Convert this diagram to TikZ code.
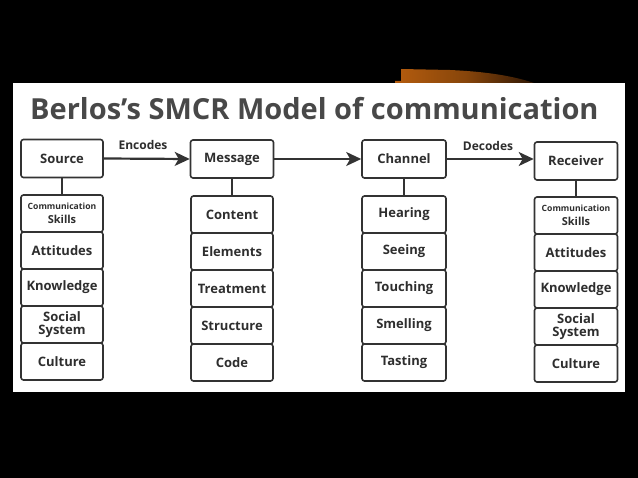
\documentclass[tikz,border=0pt]{standalone}
\usepackage{fontspec}
\setmainfont{Open Sans}
\usetikzlibrary{arrows.meta}
\definecolor{lineC}{HTML}{333333}
\definecolor{txtC}{HTML}{2E2E2E}
\definecolor{titleC}{HTML}{484848}
\definecolor{blobA}{HTML}{B45C0E}
\definecolor{blobB}{HTML}{2A1404}
\tikzset{
  box/.style={draw=lineC, line width=1.6pt, rounded corners=2.5pt, text=txtC,
    font=\bfseries\fontsize{13}{14}\selectfont, align=center, inner sep=0pt},
  headbox/.style={box, minimum height=38pt},
  cellbox/.style={box, minimum height=37pt},
  link/.style={draw=lineC, line width=1.6pt},
  flow/.style={draw=lineC, line width=2.2pt, -{Stealth[length=15pt,width=14pt,inset=4pt]}},
  lab/.style={text=txtC, font=\bfseries\fontsize{12}{13}\selectfont, inner sep=0pt}
}
\newcommand{\commskills}{\fontsize{8.6}{9}\selectfont Communication\\[0pt]\fontsize{11}{11}\selectfont Skills}
\newcommand{\socsys}{Social\\[-1pt]System}
\begin{document}
\begin{tikzpicture}[x=1pt,y=-1pt]
\useasboundingbox (0,0) rectangle (638,478);
\fill[black] (0,0) rectangle (638,478);
% orange blob
\shade[left color=blobA, right color=blobB, middle color=blobA!75!black]
  (395,84) -- (395,81) -- (401,81) -- (401,69) -- (450,70)
  .. controls (495,72) and (520,78) .. (537,84) -- cycle;
\fill[white] (13,83) rectangle (625,392);
\node[anchor=base west, text=titleC, font=\bfseries\fontsize{29}{32}\selectfont, inner sep=0pt] (title) at (30,120) {Berlos’s SMCR Model of communication};

% top boxes
\node[headbox, minimum width=82pt] (src) at (62,158.5) {Source};
\node[headbox, minimum width=83pt] (msg) at (232,159) {Message};
\node[headbox, minimum width=84pt] (chn) at (404,159) {Channel};
\node[headbox, minimum width=83pt] (rcv) at (576,161) {Receiver};

% stacks
\node[cellbox, minimum width=82pt] (s1) at (62,213.5) {\commskills};
\node[cellbox, minimum width=82pt] (s2) at (62,250.5) {Attitudes};
\node[cellbox, minimum width=82pt] (s3) at (62,287.5) {Knowledge};
\node[cellbox, minimum width=82pt] (s4) at (62,324.5) {\socsys};
\node[cellbox, minimum width=82pt] (s5) at (62,361.5) {Culture};

\node[cellbox, minimum width=82pt] (m1) at (232,214.5) {Content};
\node[cellbox, minimum width=82pt] (m2) at (232,251.5) {Elements};
\node[cellbox, minimum width=82pt] (m3) at (232,288.5) {Treatment};
\node[cellbox, minimum width=82pt] (m4) at (232,325.5) {Structure};
\node[cellbox, minimum width=82pt] (m5) at (232,362.5) {Code};

\node[cellbox, minimum width=84pt] (c1) at (404,214.5) {Hearing};
\node[cellbox, minimum width=84pt] (c2) at (404,251.5) {Seeing};
\node[cellbox, minimum width=84pt] (c3) at (404,288.5) {Touching};
\node[cellbox, minimum width=84pt] (c4) at (404,325.5) {Smelling};
\node[cellbox, minimum width=84pt] (c5) at (404,362.5) {Tasting};

\node[cellbox, minimum width=83pt] (r1) at (576,215.5) {\commskills};
\node[cellbox, minimum width=83pt] (r2) at (576,252.5) {Attitudes};
\node[cellbox, minimum width=83pt] (r3) at (576,289.5) {Knowledge};
\node[cellbox, minimum width=83pt] (r4) at (576,326.5) {\socsys};
\node[cellbox, minimum width=83pt] (r5) at (576,363.5) {Culture};

% links
\draw[link] (src.south) -- (s1.north);
\draw[link] (msg.south) -- (m1.north);
\draw[link] (chn.south) -- (c1.north);
\draw[link] (rcv.south) -- (r1.north);

% flows
\draw[flow] (src.east) -- (msg.west);
\draw[flow] (msg.east) -- (chn.west);
\draw[flow] (chn.east) -- (chn.east -| rcv.west);
\node[lab] (enc) at (143,145) {Encodes};
\node[lab] (dec) at (488,146) {Decodes};
\end{tikzpicture}
\end{document}
